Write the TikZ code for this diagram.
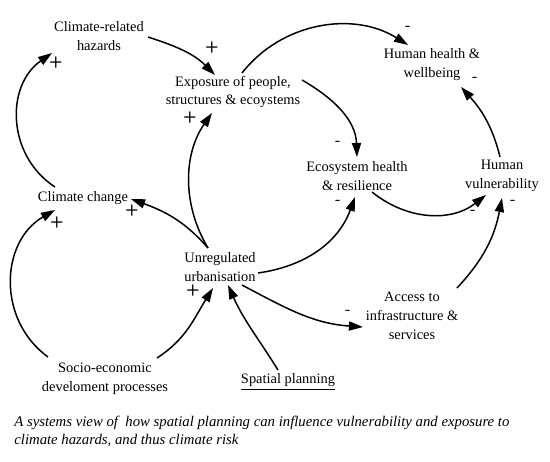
\documentclass[tikz,border=0pt]{standalone}
\usepackage{fontspec}
\setmainfont{Liberation Serif}
\usetikzlibrary{arrows.meta}
\begin{document}
\begin{tikzpicture}[x=0.02cm,y=0.02cm,
  lbl/.style={align=center,inner sep=0pt,font=\fontsize{8.2}{10.8}\selectfont},
  conn/.style={line width=0.85pt,-{Triangle[length=8pt,width=5.2pt]}},
  plus/.style={inner sep=0pt,font=\fontsize{9}{9}\sffamily\bfseries},
  minus/.style={inner sep=0pt,font=\fontsize{9}{9}\sffamily\bfseries}]
\useasboundingbox (0,0) rectangle (550,462);
% nodes
\node[lbl] (haz) at (99,426) {Climate-related\\hazards};
\node[lbl] (exp) at (233,370) {Exposure of people,\\structures \& ecoystems};
\node[lbl] (hh)  at (432,397) {Human health \&\\wellbeing};
\node[lbl] (eco) at (357,286) {Ecosystem health\\\& resilience};
\node[lbl] (hv)  at (502,286) {Human\\vulnerability};
\node[lbl] (cc)  at (83,264) {Climate change};
\node[lbl] (urb) at (220,195) {Unregulated\\urbanisation};
\node[lbl] (soc) at (105,83) {Socio-economic\\develoment processes};
\node[lbl] (sp)  at (288,80) {\underline{Spatial planning}};
\node[lbl] (acc) at (412,146) {Access to\\infrastructure \&\\services};
\node[anchor=west,align=left,inner sep=0pt,font=\fontsize{8.4}{10.3}\selectfont\itshape] (cap) at (14,31)
  {A systems view of~ how spatial planning can influence vulnerability and exposure to\\climate hazards, and thus climate risk};
% connectors
\draw[conn] ([shift={(-28,11)}]cc.center) to[out=147,in=215,looseness=1.09] ([shift={(-47,-17)}]haz.center);
\draw[conn] ([shift={(49,-1)}]haz.center) to[out=-18,in=135] ([shift={(-18,17)}]exp.center);
\draw[conn] ([shift={(-12,19)}]urb.center) to[out=121,in=235,looseness=0.95] ([shift={(-21,-21)}]exp.center);
\draw[conn] ([shift={(-12,19)}]urb.center) to[out=131,in=-20] ([shift={(48,-1)}]cc.center);
\draw[conn] ([shift={(-57,22)}]soc.center) to[out=144,in=210,looseness=1.1] ([shift={(-28,-12)}]cc.center);
\draw[conn] ([shift={(52,21)}]soc.center) to[out=33,in=238] ([shift={(-7,-21)}]urb.center);
\draw[conn] ([shift={(-10,12)}]sp.center) to[out=122,in=294] ([shift={(8,-18)}]urb.center);
\draw[conn] ([shift={(22,-18)}]urb.center) to[out=-28,in=176] ([shift={(-49,-11)}]acc.center);
\draw[conn] ([shift={(45,28)}]acc.center) to[out=47,in=259] ([shift={(0,-22)}]hv.center);
\draw[conn] ([shift={(38,-6)}]urb.center) to[out=8,in=250] ([shift={(-2,-21)}]eco.center);
\draw[conn] ([shift={(15,-16)}]eco.center) to[out=-39,in=218] ([shift={(-16,-19)}]hv.center);
\draw[conn] ([shift={(69,12)}]exp.center) to[out=-30,in=92] ([shift={(0,19)}]eco.center);
\draw[conn] ([shift={(9,19)}]exp.center) to[out=52,in=148,looseness=0.98] ([shift={(-24,20)}]hh.center);
\draw[conn] ([shift={(-2,19)}]hv.center) to[out=104,in=312] ([shift={(29,-22)}]hh.center);
% polarity signs
\node[plus] (p1) at (56,399) {+};
\node[plus] (p2) at (212,414) {+};
\node[plus] (p3) at (190,344) {+};
\node[plus] (p4) at (132,251) {+};
\node[plus] (p5) at (57,239) {+};
\node[plus] (p6) at (193,171) {+};
\node[minus] (m1) at (348,150) {-};
\node[minus] (m2) at (513,260) {-};
\node[minus] (m3) at (338,260) {-};
\node[minus] (m4) at (473,250) {-};
\node[minus] (m5) at (338,319) {-};
\node[minus] (m6) at (408,434) {-};
\node[minus] (m7) at (475,383) {-};
\end{tikzpicture}
\end{document}
